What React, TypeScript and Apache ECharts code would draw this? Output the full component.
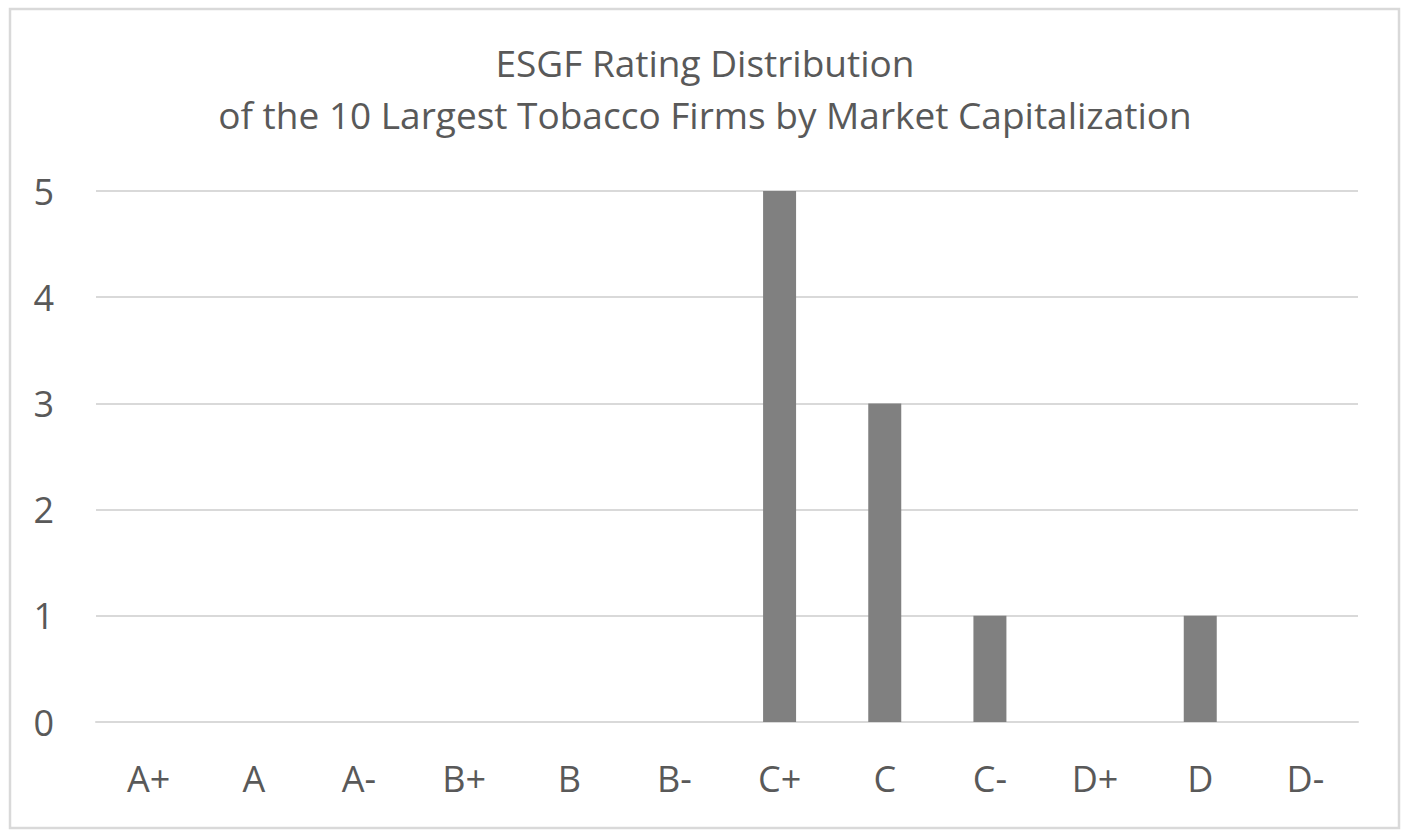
import React, { useEffect, useRef } from "react";
import * as echarts from "echarts";

const categories = ["A+", "A", "A-", "B+", "B", "B-", "C+", "C", "C-", "D+", "D", "D-"];
const counts = [0, 0, 0, 0, 0, 0, 5, 3, 1, 0, 1, 0];
const titleLines = [
  "ESGF Rating Distribution",
  "of the 10 Largest Tobacco Firms by Market Capitalization",
];

export default function App() {
  const ref = useRef<HTMLDivElement>(null);
  useEffect(() => {
    document.body.style.margin = "0";
    const chart = echarts.init(ref.current!, null, { renderer: "svg" });
    const font = "Open Sans";
    chart.setOption({
      animation: false,
      backgroundColor: "#ffffff",
      graphic: [
        {
          type: "rect",
          shape: { x: 10, y: 9, width: 1389, height: 819 },
          style: { fill: "none", stroke: "#d9d9d9", lineWidth: 2.5 },
          z: -1,
        },
      ],
      title: {
        text: titleLines.join("\n"),
        left: "center",
        top: 31,
        textStyle: {
          fontFamily: font,
          fontSize: 37,
          fontWeight: "normal",
          color: "#595959",
          lineHeight: 52,
        },
      },
      grid: { left: 96, right: 52, top: 191, bottom: 118, containLabel: false },
      xAxis: {
        type: "category",
        data: categories,
        axisLine: { lineStyle: { color: "#d9d9d9", width: 2 } },
        axisTick: { show: false },
        axisLabel: {
          color: "#595959",
          fontFamily: font,
          fontSize: 36,
          margin: 38,
          interval: 0,
        },
      },
      yAxis: {
        type: "value",
        min: 0,
        max: 5,
        interval: 1,
        axisLine: { show: false },
        axisTick: { show: false },
        splitLine: { lineStyle: { color: "#d9d9d9", width: 2 } },
        axisLabel: {
          color: "#595959",
          fontFamily: font,
          fontSize: 36,
          margin: 42,
        },
      },
      series: [
        {
          type: "bar",
          data: counts,
          barWidth: 33,
          itemStyle: { color: "#808080" },
        },
      ],
    });
    return () => chart.dispose();
  }, []);
  return <div ref={ref} style={{ width: 1410, height: 840 }} />;
}
